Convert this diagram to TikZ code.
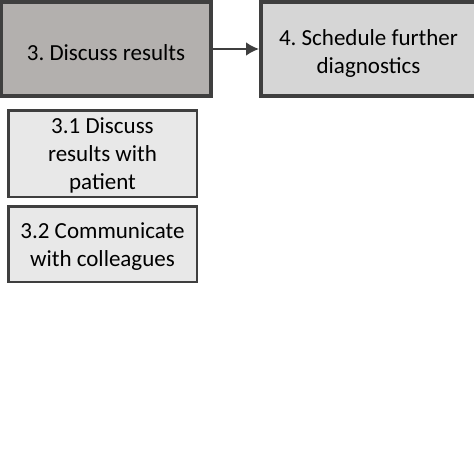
\documentclass[tikz,border=0pt]{standalone}
\usepackage{fontspec}
\setmainfont{Carlito}
\usepackage{xcolor}
\usetikzlibrary{arrows.meta,positioning}

\definecolor{edgegray}{HTML}{3F3F3F}
\definecolor{stepdark}{HTML}{B3B0AE}
\definecolor{stepmid}{HTML}{D6D6D6}
\definecolor{steplight}{HTML}{E8E8E8}

\begin{document}
\frenchspacing
\begin{tikzpicture}[auto]
        % Style definitions
        \tikzset{
            mainbox/.style={draw=edgegray, rectangle, minimum height=94pt, align=center, line width=4pt, font=\fontsize{23}{28}\selectfont},
            subbox/.style={draw=edgegray, fill=steplight, rectangle, minimum width=188.5pt, align=center, line width=2.5pt, font=\fontsize{23}{28}\selectfont}
        }

        % Frame of the picture
        \useasboundingbox (0,0) rectangle (474pt,-474pt);

        % Main steps
        \node [mainbox, fill=stepdark, minimum width=210pt] (discuss) at (106pt,-49pt) {\rule{0pt}{24pt}3. Discuss results};
        \node [mainbox, fill=stepmid, minimum width=215pt, right=46pt of discuss] (schedule) {\rule{0pt}{24pt}4. Schedule further\\diagnostics};

        % Sub steps below step 3
        \node [subbox, minimum height=86.5pt, below=11pt of discuss.south, xshift=-3.5pt] (patient) {\rule{0pt}{20pt}3.1 Discuss\\results with\\patient};
        \node [subbox, minimum height=75.5pt, below=7pt of patient] (colleagues) {\rule{0pt}{20pt}3.2 Communicate\\with colleagues};

        % Connections
        \draw [-{Latex[length=13pt,width=14pt]}, draw=edgegray, fill=edgegray, line width=2.5pt] (discuss.east) -- (schedule.west);
    \end{tikzpicture}
\end{document}
